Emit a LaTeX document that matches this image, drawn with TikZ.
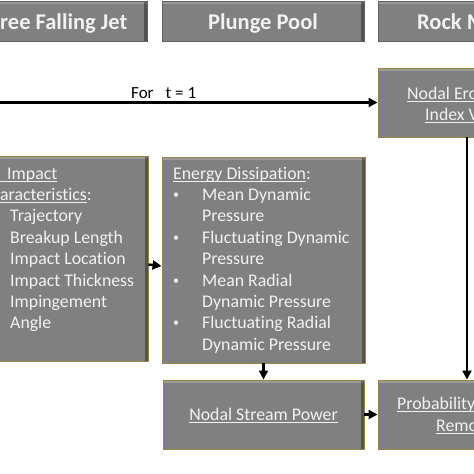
\documentclass[tikz,border=0pt]{standalone}
\usepackage{fontspec}
\setmainfont{Carlito}[Ligatures=NoCommon]
\usetikzlibrary{arrows.meta}
\definecolor{boxgray}{RGB}{128,128,128}
\definecolor{boxedge}{RGB}{150,132,70}
\definecolor{headedge}{RGB}{95,95,95}
\definecolor{boxtext}{RGB}{242,242,242}
\newcommand{\ulbox}[1]{\leavevmode\setbox0\hbox{#1}\rlap{\rule[-2.6pt]{\wd0}{0.9pt}}\box0}
\newcommand{\bodyfont}{\fontsize{17.8}{21.4}\selectfont}
\newcommand{\headfont}{\fontsize{22.5}{27}\selectfont\bfseries}
\newcommand{\dotmark}{\raisebox{2pt}{\fontsize{12}{12}\selectfont\textbullet}}
\tikzset{
  bevel/.style={path picture={
    \fill[white,opacity=0.22] (path picture bounding box.north west) rectangle ([yshift=-3pt]path picture bounding box.north east);
    \fill[black,opacity=0.35] ([xshift=-3pt]path picture bounding box.north east) rectangle (path picture bounding box.south east);
  }},
  box/.style={draw=boxedge, line width=0.9pt, fill=boxgray, bevel, inner sep=0pt},
  headbox/.style={draw=headedge, line width=0.9pt, fill=boxgray, bevel, inner sep=0pt},
  txt/.style={text=boxtext, font=\bodyfont, inner sep=0pt, anchor=base west},
  headtxt/.style={text=boxtext, font=\headfont, inner sep=0pt, anchor=base west},
  flow/.style={-{Triangle[length=9pt,width=9pt]}, line width=2.4pt},
}
\begin{document}
\begin{tikzpicture}[x=1pt,y=-1pt]
\path[use as bounding box, clip] (0,0) rectangle (474,474);
% stage headers
\node[headbox, minimum width=207pt, minimum height=40pt] (hjet) at (43.5,21) {};
\node[headbox, minimum width=202pt, minimum height=40pt] (hpool) at (263,21) {};
\node[headbox, minimum width=178pt, minimum height=40pt] (hrock) at (467,21) {};
\node[headtxt] at (0,29) {ree Falling Jet};
\node[headtxt, anchor=base] at (263,29) {Plunge Pool};
\node[headtxt] at (417,29) {Rock M};
% boxes
\node[box, minimum width=178pt, minimum height=69pt] (erosion) at (467,102.5) {};
\node[box, minimum width=208pt, minimum height=205pt] (jet) at (44,258.5) {};
\node[box, minimum width=203pt, minimum height=206pt] (dissip) at (263.5,260) {};
\node[box, minimum width=201pt, minimum height=69pt] (stream) at (263.5,414.5) {};
\node[box, minimum width=178pt, minimum height=69pt] (prob) at (467,414.5) {};
% connectors
\coordinate (tstart) at (-5,102.5);
\draw[flow] (tstart) -- (erosion.west);
\node[inner sep=0pt, anchor=base west, font=\fontsize{17}{20}\selectfont] (tlabel) at (131,98) {For\hspace{12pt}t = 1};
\draw[flow] ([yshift=-6pt]jet.east) -- ([yshift=-6pt]dissip.west);
\draw[flow] (dissip.south) -- (stream.north);
\draw[flow] (stream.east) -- (prob.west);
\draw[flow] (erosion.south) -- (prob.north);
% box texts
\node[txt] at (407,99) {\ulbox{Nodal Ero}};
\node[txt] at (425,120) {\ulbox{Index V}};
\node[txt] at (0,179) {\ulbox{\hspace{7pt}Impact}};
\node[txt] at (0,200.4) {\ulbox{aracteristics}:};
\foreach \txt [count=\i] in {Trajectory, Breakup Length, Impact Location, Impact Thickness, Impingement, Angle}
  \node[txt] at (10,{200.4+21.4*\i}) {\txt};
\node[txt] at (173,179) {\ulbox{Energy Dissipation}:};
\foreach \txt [count=\i] in {Mean Dynamic, Pressure, Fluctuating Dynamic, Pressure, Mean Radial, Dynamic Pressure, Fluctuating Radial, Dynamic Pressure}
  \node[txt] at (202,{179+21.4*\i}) {\txt};
\foreach \i in {1,3,5,7}
  \node[txt] at (173,{179+21.4*\i}) {\dotmark};
\node[txt, anchor=base] at (263.5,420) {\ulbox{Nodal Stream Power}};
\node[txt] at (397,409) {\ulbox{Probability}};
\node[txt] at (436,431) {\ulbox{Remo}};
\end{tikzpicture}
\end{document}
